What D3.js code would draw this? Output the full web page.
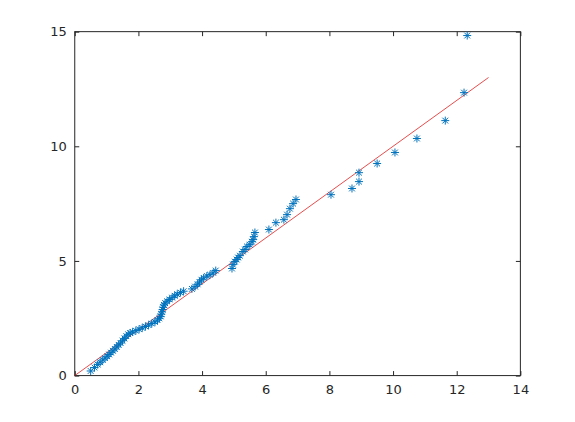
<!DOCTYPE html>
<html>
<head>
<meta charset="utf-8">
<script src="https://cdn.jsdelivr.net/npm/d3@7"></script>
<style>
  html, body { margin: 0; padding: 0; background: #fff; }
  svg { display: block; }
  .tick text { font-family: "DejaVu Sans", sans-serif; font-size: 13px; fill: #262626; }
</style>
</head>
<body>
<svg id="chart" width="575" height="422"></svg>
<script>
// ---- data ----
const xValues = [
  0.50,0.62,0.72,0.80,0.88,0.95,1.02,1.08,1.14,1.20,1.26,1.32,1.38,1.44,1.50,1.56,1.62,1.68,1.74,
  1.82,1.92,2.02,2.12,2.22,2.32,2.42,2.52,2.60,2.66,
  2.70,2.72,2.74,2.76,2.78,2.80,2.84,2.90,
  2.98,3.06,3.14,3.22,3.32,3.42,
  3.68,3.78,3.86,3.92,3.98,4.05,4.15,4.25,4.35,4.43,
  4.94,4.97,5.03,5.09,5.13,5.19,5.28,5.35,5.41,5.50,5.57,5.60,5.63,5.66,
  6.10,6.32,6.57,6.67,6.76,6.86,6.95,
  8.05,8.71,8.93,8.93,9.50,10.06,10.75,11.64,12.23,12.33
];
const yValues = [
  0.20,0.35,0.48,0.58,0.68,0.76,0.84,0.92,1.00,1.08,1.16,1.25,1.34,1.42,1.52,1.62,1.72,1.80,1.86,
  1.90,1.96,2.02,2.08,2.14,2.20,2.27,2.34,2.42,2.50,
  2.58,2.68,2.78,2.88,2.98,3.08,3.16,3.24,
  3.32,3.40,3.48,3.55,3.62,3.68,
  3.78,3.88,3.98,4.08,4.18,4.26,4.34,4.40,4.48,4.58,
  4.67,4.84,4.97,5.06,5.15,5.23,5.41,5.50,5.63,5.71,5.84,5.93,6.06,6.24,
  6.37,6.67,6.80,7.02,7.28,7.50,7.68,
  7.89,8.16,8.46,8.85,9.25,9.73,10.34,11.12,12.34,14.83
];
const refLineX = [0, 13];
const refLineY = [0, 13];
const xTicks = [0, 2, 4, 6, 8, 10, 12, 14];
const yTicks = [0, 5, 10, 15];
const xDomain = [0, 14];
const yDomain = [0, 15];

// ---- layout ----
const W = 575, H = 422;
const plotLeft = 0.13 * W, plotWidth = 0.775 * W;
const plotHeight = 0.815 * H, plotTop = H - 0.11 * H - plotHeight;

const svg = d3.select("#chart");
svg.append("rect").attr("width", W).attr("height", H).attr("fill", "#fff");

const x = d3.scaleLinear().domain(xDomain).range([plotLeft, plotLeft + plotWidth]);
const y = d3.scaleLinear().domain(yDomain).range([plotTop + plotHeight, plotTop]);

const tickLen = 4.5;
const axisColor = "#262626";

function styleAxis(g) {
  g.select(".domain").remove();
  g.selectAll(".tick line").attr("stroke", axisColor).attr("stroke-width", 1);
}

// bottom
svg.append("g").attr("transform", `translate(0,${plotTop + plotHeight})`)
  .call(d3.axisBottom(x).tickValues(xTicks).tickSize(-tickLen).tickPadding(9).tickFormat(d3.format("d")))
  .call(styleAxis);
// top
svg.append("g").attr("transform", `translate(0,${plotTop})`)
  .call(d3.axisTop(x).tickValues(xTicks).tickSize(-tickLen).tickFormat(""))
  .call(styleAxis);
// left
svg.append("g").attr("transform", `translate(${plotLeft},0)`)
  .call(d3.axisLeft(y).tickValues(yTicks).tickSize(-tickLen).tickPadding(8).tickFormat(d3.format("d")))
  .call(styleAxis);
// right
svg.append("g").attr("transform", `translate(${plotLeft + plotWidth},0)`)
  .call(d3.axisRight(y).tickValues(yTicks).tickSize(-tickLen).tickFormat(""))
  .call(styleAxis);

// box
svg.append("rect")
  .attr("x", plotLeft).attr("y", plotTop).attr("width", plotWidth).attr("height", plotHeight)
  .attr("fill", "none").attr("stroke", axisColor).attr("stroke-width", 1);

// reference line
svg.append("line")
  .attr("x1", x(refLineX[0])).attr("y1", y(refLineY[0]))
  .attr("x2", x(refLineX[1])).attr("y2", y(refLineY[1]))
  .attr("stroke", "#dd0000").attr("stroke-width", 0.7);

// asterisk markers
const r = 4;
const pts = xValues.map((v, i) => [v, yValues[i]]);
const star = `M${-r},0L${r},0M0,${-r}L0,${r}M${-r*0.72},${-r*0.72}L${r*0.72},${r*0.72}M${-r*0.72},${r*0.72}L${r*0.72},${-r*0.72}`;
svg.append("g").selectAll("path").data(pts).join("path")
  .attr("transform", d => `translate(${x(d[0])},${y(d[1])})`)
  .attr("d", star)
  .attr("fill", "none")
  .attr("stroke", "#0072BD")
  .attr("stroke-width", 1);
</script>
</body>
</html>
